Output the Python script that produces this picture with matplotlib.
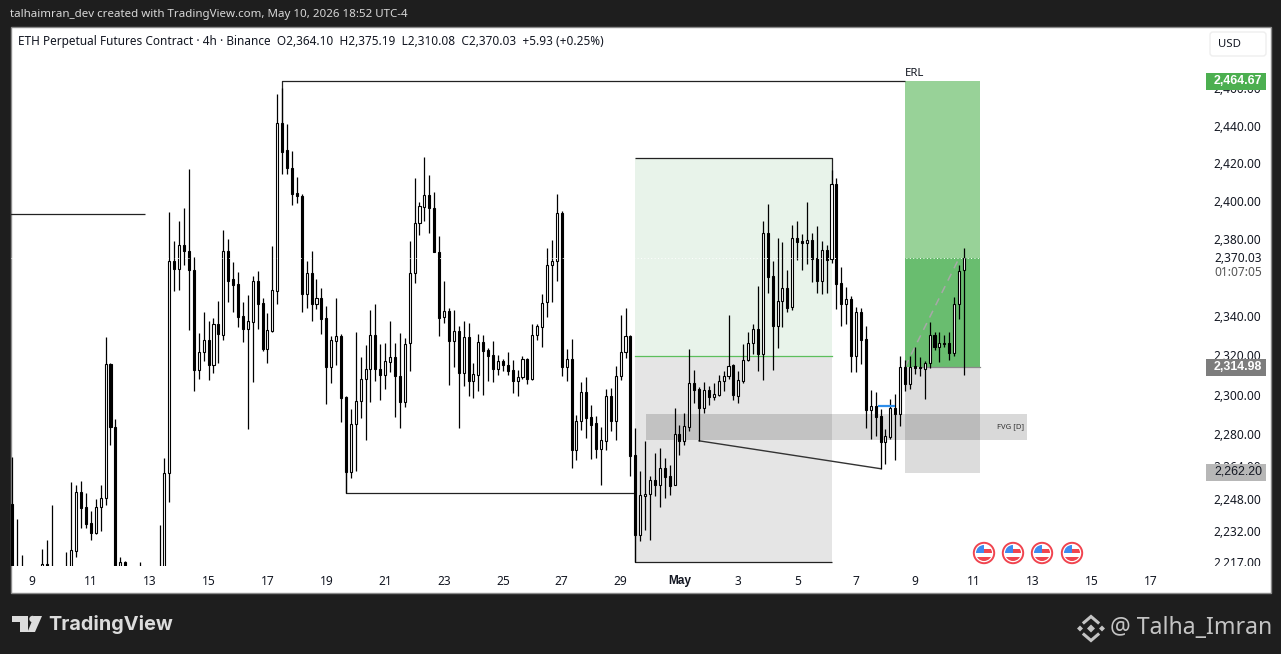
import numpy as np
import matplotlib
matplotlib.use("Agg")
import matplotlib.pyplot as plt
from matplotlib.patches import Rectangle, Circle, Polygon, FancyBboxPatch
from matplotlib.ticker import NullLocator

# 4h candles, index 0 = Apr 9 00:00
first_index = -4
opens = [
    2245.4,2210,2208,2205,2200,2205,2208,2216,2206,2209,
    2204,2208,2212,2222.6,2251.2,2243.8,2235.9,2231.3,2244.1,2248.2,
    2315.5,2283.6,2212,2216.8,2208,2205,2209,2204,2207,2203,
    2206,2210,2260.6,2368.5,2364.6,2376.9,2373.7,2363.8,2312.4,2321.6,
    2327.7,2314.8,2335.9,2330.1,2373.7,2359,2356.5,2339.9,2333.6,2337.2,
    2358,2346.7,2323.4,2332.6,2353.2,2441.2,2426.8,2417.6,2404.2,2402.5,
    2351.6,2362.2,2346.5,2349.3,2339.1,2314.2,2327.5,2329.7,2298.7,2261.4,
    2285.1,2296.7,2307.7,2312.9,2330.3,2312.9,2310.2,2316.8,2319,2309.4,
    2296.5,2326,2362.2,2388.2,2397,2403,2396.2,2373.2,2339.4,2342.5,
    2327.5,2332.3,2311.2,2329.2,2307.1,2310.2,2326.7,2322.6,2320,2313.2,
    2317,2315,2312.4,2307,2308.7,2318,2307.9,2330.3,2334.3,2347.2,
    2366.4,2368.5,2393.6,2314.2,2318,2272.1,2286.6,2301.2,2288.6,2285.6,
    2272.9,2276.9,2299.2,2286.9,2309.2,2321.4,2329.9,2269.6,2230.3,2249.5,
    2250.5,2257.1,2255,2263.1,2259.1,2255,2280.1,2276.9,2283.9,2305.8,
    2302.7,2293.5,2302.2,2299,2300,2307,2309.2,2315,2299.5,2307.1,
    2317.8,2326,2333.3,2320.4,2383.1,2360.6,2335.2,2347.7,2354.4,2344.8,
    2380.5,2379,2377.9,2379.5,2370.1,2358.3,2374.2,2369.5,2408.8,2357,
    2346.5,2348.7,2319.8,2342,2328.2,2292.5,2294.2,2289.1,2276.4,2278.9,
    2293.2,2290.5,2314,2305.6,2314.3,2314,2313.2,2316,2330.3,2324.4,
    2326.2,2326,2320.9,2346.1,2364.1,
]
highs = [
    2268.6,2238,2220.4,2212,2210,2213,2223.3,2227.7,2244.9,2212,
    2214,2221.8,2256.3,2254.8,2256.8,2250.7,2242,2247.8,2254.7,2329.4,
    2316.1,2287.6,2219.4,2217.5,2213,2213,2217,2212,2211,2213,
    2235.1,2268.3,2394.3,2379.2,2389.6,2396.3,2416.9,2370.6,2331.4,2342,
    2337.4,2339.1,2347.9,2384.9,2380.2,2368.1,2362.9,2347.3,2351,2360.8,
    2363.4,2349.3,2341.7,2376.5,2456.9,2460,2440.8,2426.4,2412.7,2403.5,
    2368.5,2373.7,2359.1,2354.4,2345.3,2329.7,2349.3,2330.8,2299.3,2292.8,
    2331.9,2319.2,2325.3,2343.2,2346.3,2325.8,2326.3,2337.4,2326.3,2331.4,
    2328.9,2379.1,2412.1,2399.5,2423.2,2413.7,2404.8,2381.7,2358.2,2344.1,
    2343,2335,2337.6,2336.4,2316.1,2330.9,2330.4,2323.8,2327.3,2320.2,
    2318.2,2321.7,2317.7,2312.6,2319.7,2318.7,2336,2336,2351.5,2375.4,
    2379.6,2403.7,2394.6,2323.3,2328.4,2289.8,2306.5,2309,2294.8,2289.1,
    2283.8,2302.7,2303.2,2314.6,2340.6,2344.2,2330.4,2283.3,2261.8,2276.8,
    2259.1,2270.6,2273.3,2268.1,2264.8,2293.3,2284.6,2290.6,2323.3,2312.6,
    2304,2306.3,2304.5,2305.8,2310,2311.9,2340.6,2315.5,2311.9,2325.8,
    2331.8,2336,2355.6,2389.6,2398.4,2368.7,2380.5,2378.6,2363.9,2387.5,
    2389.6,2382.6,2399.5,2383.3,2386.9,2379.1,2376.9,2416.4,2412,2365.3,
    2354.9,2350.3,2344.6,2344.1,2335,2302.4,2301.4,2292.8,2282.8,2297.8,
    2300.4,2319.7,2317.7,2319.7,2324.3,2319.2,2317.2,2337,2331.8,2331.9,
    2330.4,2331.9,2349.9,2366.4,2375.19,
]
lows = [
    2200,2195,2198,2195,2195,2198,2204,2200,2200,2198,
    2200,2204,2206,2219.6,2233.8,2233.8,2227.9,2230.8,2232.3,2245.1,
    2274.9,2205,2206,2203,2200,2200,2199,2198,2197,2198,
    2201,2204,2246.6,2353.2,2353.7,2366.5,2333.1,2302,2308.1,2317.3,
    2307.6,2311.2,2316.1,2328,2347.5,2342.2,2334.5,2327,2282.9,2306.6,
    2333.6,2322.4,2315.8,2332.1,2346.5,2414.4,2414.4,2398.1,2399.1,2342.3,
    2344.2,2337.7,2343.9,2331.1,2295.5,2306,2314.8,2286.4,2250.7,2258.4,
    2261.9,2288.4,2277.4,2296.5,2307,2297.5,2303,2311.7,2288.9,2283,
    2294,2312.2,2357.3,2381.9,2389.6,2383.3,2373,2330,2336.4,2304.9,
    2314.2,2283.4,2304.4,2299.5,2298.5,2302,2300,2307.1,2306.5,2310.2,
    2312.2,2310.2,2301,2299.5,2308.1,2305.6,2307.6,2328,2324,2339.7,
    2347.5,2358.3,2309.7,2307.1,2263.4,2267.4,2282.4,2278.4,2267.9,2268.4,
    2255,2272.4,2281.9,2277.4,2307.6,2318.8,2259.4,2216.8,2227.4,2232.8,
    2227.9,2249.5,2244.1,2248.5,2250,2254.8,2269.9,2274.9,2281.9,2296,
    2276.8,2291,2294.8,2297.2,2299.3,2301.9,2308.1,2297.5,2296,2306.1,
    2317.3,2320.4,2312.2,2307.6,2352.1,2312.7,2323.9,2334.5,2342.2,2343.4,
    2368.8,2364.1,2367.2,2357.8,2352.1,2351.6,2352.1,2367.7,2343.9,2335.2,
    2336,2311.7,2311.7,2315.3,2283.4,2277.9,2279.4,2262.9,2265.4,2277.9,
    2267.4,2284.4,2302,2303,2310.7,2309.2,2298,2313.7,2322.8,2316.8,
    2324.4,2317.8,2319.8,2338.7,2310.08,
]
closes = [
    2205,2205,2204,2200,2205,2208,2216,2206,2209,2204,
    2208,2212,2222.8,2251.2,2243.6,2235.7,2231.3,2244.1,2248.2,2315.5,
    2283.6,2212,2216.8,2208,2205,2209,2204,2207,2203,2206,
    2210,2260.6,2368.5,2364.6,2376.9,2373.5,2363.6,2312.4,2321.6,2327.7,
    2314.8,2335.9,2330.6,2373.7,2358.3,2356.3,2339.7,2333.6,2337.4,2358,
    2346.5,2323.4,2332.8,2353.4,2441.2,2426.1,2417.4,2403.9,2402.8,2351.6,
    2362.2,2346.5,2349.3,2338.7,2314.2,2327.7,2329.7,2298.5,2261.4,2285.1,
    2296.7,2307.7,2312.9,2330.3,2312.9,2310.2,2317,2319,2309.2,2296.5,
    2325.7,2362.2,2388.4,2397.2,2403,2396,2373,2339.3,2342.5,2327.5,
    2332.3,2311.2,2329.2,2307.1,2310.4,2326.7,2322.4,2319.8,2313.2,2317,
    2314.8,2312.2,2307,2308.9,2318,2308.1,2330.3,2334.8,2346.7,2366.4,
    2368.5,2393.6,2314.2,2318,2272.4,2286.6,2301.2,2288.4,2284.9,2272.9,
    2277.1,2299.2,2286.9,2309.4,2321.6,2329.7,2269.4,2230.3,2249.7,2250.5,
    2257.1,2255,2263.1,2258.9,2254.5,2280.1,2276.9,2284.3,2305.8,2302.5,
    2293.3,2302.2,2299,2300.2,2306.8,2309.4,2314.5,2300,2307.3,2317.5,
    2326.2,2333.3,2320.4,2383.1,2360.4,2335.2,2347.7,2354.4,2344.4,2380.5,
    2378.6,2377.9,2379.5,2369.8,2358.3,2374.2,2369,2408.8,2356.8,2346.5,
    2348.7,2319.8,2342,2328,2292.5,2294.2,2288.9,2276.4,2279.1,2293.2,
    2290.5,2314,2305.6,2314,2313.7,2313.7,2316,2330.3,2324.4,2326.2,
    2325.9,2320.9,2346.1,2363.2,2370.03,
]

price_ticks = [2460, 2440, 2420, 2400, 2380, 2340, 2320, 2300, 2280, 2264, 2248, 2232, 2217]
day_ticks = [0, 12, 24, 36, 48, 60, 72, 84, 96, 108, 120, 132, 144, 156, 168, 180, 192, 204, 216, 228]
day_labels = ["9", "11", "13", "15", "17", "19", "21", "23", "25", "27", "29", "May",
              "3", "5", "7", "9", "11", "13", "15", "17"]

last_price = 2370.03
erl_price = 2464.2
entry_price = 2314.1
stop_price = 2260.7
range_top = 2422.7
range_mid = 2319.4
range_bottom = 2217.0
swing_low_price = 2250.7
old_high_price = 2393.0
fvg_top = 2290.3
fvg_bottom = 2277.2

DARK = "#1e1e1e"
FONT = "Noto Sans"
BOLD = "Liberation Sans"
plt.rcParams["font.family"] = FONT

W, H = 1281, 654
fig = plt.figure(figsize=(W / 100, H / 100), dpi=100, facecolor=DARK)


def px_axes(left, top, right, bottom, zorder):
    return fig.add_axes([left / W, 1 - bottom / H, (right - left) / W, (bottom - top) / H], zorder=zorder)


# white panel behind everything
bg = px_axes(0, 0, W, H, 0)
bg.set_xlim(0, W)
bg.set_ylim(H, 0)
bg.axis("off")
bg.add_patch(Rectangle((10.5, 26.5), 1260, 566.5, fc="white", ec="#8a8a8a", lw=1))

# candle pane
ax = px_axes(11, 28, 1204, 566, 2)
ax.patch.set_visible(False)
for s in ax.spines.values():
    s.set_visible(False)

idx = np.arange(first_index, first_index + len(opens))
o = np.array(opens)
h = np.array(highs)
l = np.array(lows)
c = np.array(closes)
up = c >= o

# range box
ax.add_patch(Rectangle((123, range_mid), 40, range_top - range_mid, fc="#e8f3ea", ec="none", zorder=1))
ax.add_patch(Rectangle((123, range_bottom), 40, range_mid - range_bottom, fc="#e5e5e5", ec="none", zorder=1))

# long position
ax.add_patch(Rectangle((178, last_price), 15.2, erl_price - last_price, fc="#98d298", ec="none", zorder=1))
ax.add_patch(Rectangle((178, entry_price), 15.2, last_price - entry_price, fc="#69bd6f", ec="none", zorder=1))
ax.add_patch(Rectangle((178, stop_price), 15.2, entry_price - stop_price, fc="#dcdcdc", ec="none", zorder=1))

# FVG band
ax.add_patch(Rectangle((125.2, fvg_bottom), 77.7, fvg_top - fvg_bottom, fc="black", alpha=0.15, ec="none", zorder=2))
ax.text(202.2, (fvg_top + fvg_bottom) / 2, "FVG [D]", fontsize=5.5, color="#333333", ha="right", va="center", zorder=3)

# drawn lines
line_kw = dict(color="#222222", lw=0.9, zorder=3, solid_capstyle="butt")
ax.plot([-5, 23], [old_high_price, old_high_price], **line_kw)
ax.plot([51, 51, 178], [2441.2, erl_price, erl_price], **line_kw)
ax.plot([64, 64, 123, 123], [2261.4, swing_low_price, swing_low_price, 2230.3], **line_kw)
ax.plot([123, 123, 163], [2230.3, range_bottom, range_bottom], **line_kw)
ax.plot([123, 163, 163], [range_top, range_top, 2408.8], **line_kw)
ax.plot([136, 173], [2276.8, 2262.9], color="#333333", lw=1.0, zorder=3)
ax.plot([172.4, 176], [2294.3, 2294.3], color="#2e8eea", lw=1.6, zorder=6, solid_capstyle="butt")
ax.plot([123, 163], [range_mid, range_mid], color="#5cbf5c", lw=0.9, zorder=3)
ax.plot([181, 193.2], [entry_price, entry_price], color="#8a8a8a", lw=0.9, zorder=3)
ax.plot([178, 189], [entry_price, last_price], color="#a8a8a8", lw=1.1, ls=(0, (5, 4)), zorder=3)
ax.text(180, erl_price + 1.2, "ERL", fontsize=8.2, color="#131722", ha="center", va="bottom")

# candles
ax.vlines(idx, l, h, color="black", lw=0.9, zorder=4)
ax.bar(idx[up], np.maximum(c[up] - o[up], 0.3), bottom=o[up], width=0.42,
       facecolor="white", edgecolor="black", lw=0.8, zorder=5)
ax.bar(idx[~up], np.maximum(o[~up] - c[~up], 0.3), bottom=c[~up], width=0.42,
       facecolor="black", edgecolor="black", lw=0.8, zorder=5)
ax.axhline(last_price, color="white", lw=0.7, ls=(0, (1, 2.5)), zorder=6)

ax.set_yscale("log")
ax.set_ylim(2215.05, 2492.9)
ax.set_xlim(-4.281, 238.94)
ax.set_yticks(price_ticks)
ax.set_yticklabels([f"{v:,.2f}" for v in price_ticks])
ax.yaxis.set_minor_locator(NullLocator())
ax.set_xticks(day_ticks)
ax.set_xticklabels(day_labels)
ax.tick_params(axis="y", left=False, right=False, labelleft=False, labelright=True,
               pad=3.6, labelsize=8.6, labelcolor="#131722")
ax.tick_params(axis="x", bottom=False, pad=3, labelsize=8.6, labelcolor="#131722")
for t in ax.get_xticklabels():
    if t.get_text() == "May":
        t.set_fontfamily(BOLD)
        t.set_fontweight("bold")

# overlay for header, price badges, flags and footer
ov = px_axes(0, 0, W, H, 5)
ov.set_xlim(0, W)
ov.set_ylim(H, 0)
ov.axis("off")
ov.patch.set_visible(False)

ov.text(10, 14.5, "talhaimran_dev created with TradingView.com, May 10, 2026 18:52 UTC-4",
        fontsize=8.3, color="#d8d8d8", va="center", ha="left")
ov.text(18, 42, "ETH Perpetual Futures Contract · 4h · Binance  O2,364.10  H2,375.19  L2,310.08  C2,370.03  +5.93 (+0.25%)",
        fontsize=8.5, color="#131722", va="center", ha="left")

ov.add_patch(FancyBboxPatch((1210, 32), 56, 24, boxstyle="round,pad=0,rounding_size=3", fc="white", ec="#eeeeee", lw=1))
ov.text(1218, 44.5, "USD", fontsize=8.2, color="#131722", va="center", ha="left")

# hide the bottom of the clipped 2,217.00 label
ov.add_patch(Rectangle((1206, 566), 60, 6, fc="white", ec="none"))

badges = [("2,464.67", 73, "#4caf50", "white", "bold"),
          ("2,314.98", 359, "#7d7d7d", "white", "bold"),
          ("2,262.20", 464, "#b7b7b7", "#131722", "normal")]
for label, top, fc, tc, w in badges:
    ov.add_patch(Rectangle((1206, top), 60, 17, fc=fc, ec="none"))
    ov.text(1214, top + 8, label, fontsize=8.9, color=tc, va="center", ha="left", fontweight=w, family=BOLD)

ov.text(1214, 259, "2,370.03", fontsize=8.6, color="#131722", va="center", ha="left")
ov.text(1214, 272.5, "01:07:05", fontsize=8.6, color="#555555", va="center", ha="left")

# event flags
for fx in [984, 1013, 1042, 1072]:
    ring = Circle((fx, 553), 10.2, fc="white", ec="#f0444f", lw=1.4)
    ov.add_patch(ring)
    face = Circle((fx, 553), 8, fc="white", ec="none")
    ov.add_patch(face)
    for r, fc in [(Rectangle((fx - 8, 545), 8, 8, ec="none"), "#3d8bf0"),
                  (Rectangle((fx, 549), 8, 4, ec="none"), "#f0444f"),
                  (Rectangle((fx - 8, 556.5), 16, 4.5, ec="none"), "#f0444f")]:
        r.set_facecolor(fc)
        ov.add_patch(r)
        r.set_clip_path(face)

# TradingView logo
logo = "#dcdcdc"
ov.add_patch(Polygon([(12, 616), (28, 616), (28, 632), (20, 632), (20, 622), (12, 622)], fc=logo, ec="none"))
ov.add_patch(Circle((32.5, 619), 3.2, fc=logo, ec="none"))
ov.add_patch(Polygon([(34, 616), (42, 616), (35, 632), (27.5, 632)], fc=logo, ec="none"))
ov.text(48, 624, "TradingView", fontsize=14.3, color=logo, va="center", ha="left", fontweight="bold",
        family="Inter")

# watermark
wm = "#c4c4c4"
cx, cy = 1091, 628.5
ov.add_patch(Polygon([(cx, cy - 4), (cx + 4, cy), (cx, cy + 4), (cx - 4, cy)], fc=wm, ec="none"))
ov.add_patch(Polygon([(cx - 14, cy), (cx - 11, cy - 3), (cx - 8, cy), (cx - 11, cy + 3)], fc=wm, ec="none"))
ov.add_patch(Polygon([(cx + 14, cy), (cx + 11, cy - 3), (cx + 8, cy), (cx + 11, cy + 3)], fc=wm, ec="none"))
ov.plot([cx - 7, cx, cx + 7], [cy - 6, cy - 12, cy - 6], color=wm, lw=2.2, solid_joinstyle="miter")
ov.plot([cx - 7, cx, cx + 7], [cy + 6, cy + 12, cy + 6], color=wm, lw=2.2, solid_joinstyle="miter")
ov.text(1110, 628, "@ Talha_Imran", fontsize=16.6, color=wm, va="center", ha="left")

fig.savefig("out.png", dpi=100, facecolor=DARK)
